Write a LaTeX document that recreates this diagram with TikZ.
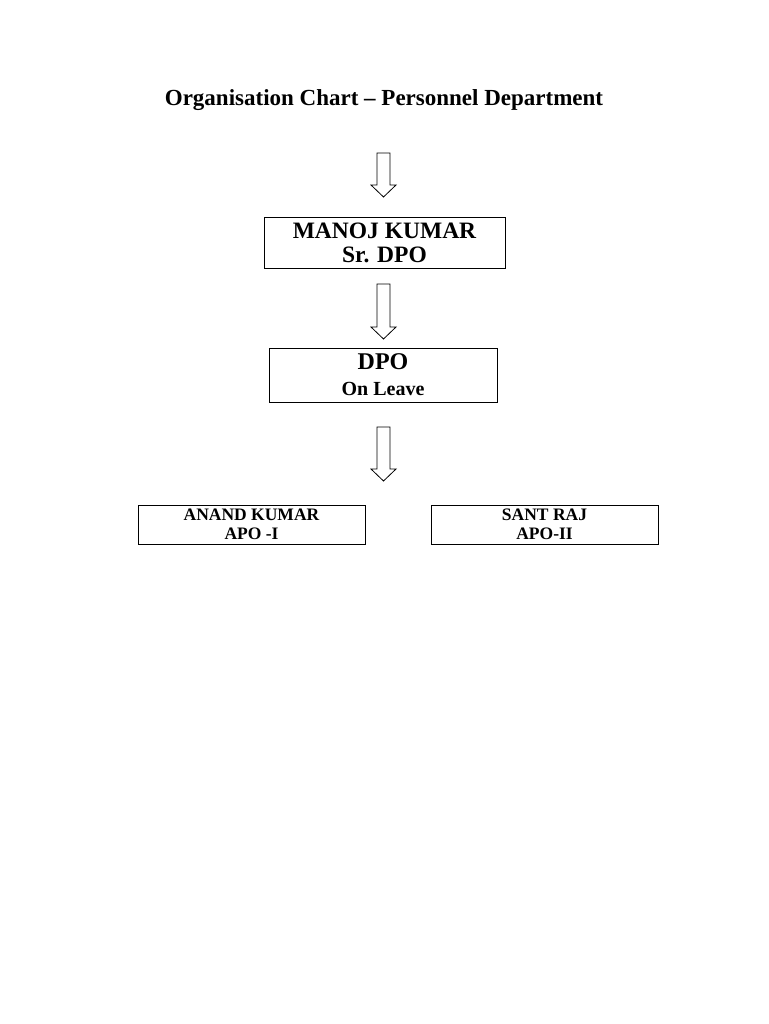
\documentclass[tikz,border=0pt]{standalone}
\usepackage{fontspec}
\setmainfont{Liberation Serif}
\begin{document}
\begin{tikzpicture}[x=1pt,y=-1pt,
  box/.style={draw,line width=0.8pt,align=center,inner sep=0pt,font=\bfseries},
  barrow/.style={draw,line width=0.8pt,line join=miter}]
\useasboundingbox (0,0) rectangle (768,1024);
\node[font=\bfseries\fontsize{23}{26}\selectfont] (title) at (384,100) {Organisation Chart -- Personnel Department};
\newcommand\blockarrow[2]{% top y, tip y
  \draw[barrow] (377,#1) -- (390,#1) -- (390,#2-12) -- (396,#2-12) -- (383.5,#2) -- (371,#2-12) -- (377,#2-12) -- cycle;}
\blockarrow{153}{197}
\blockarrow{284}{339}
\blockarrow{427}{481}
\node[box,minimum width=241,minimum height=51,font=\bfseries\fontsize{23.5}{24}\selectfont] (mk) at (384.5,242.5) {MANOJ KUMAR\\Sr. DPO};
\node[box,minimum width=228,minimum height=54,font=\bfseries\fontsize{24}{26}\selectfont] (dpo) at (383,375) {DPO\\{\fontsize{20}{22}\selectfont On Leave}};
\node[box,minimum width=227,minimum height=39,font=\bfseries\fontsize{17.5}{19}\selectfont] (ak) at (251.5,524.5) {ANAND KUMAR\\APO -I};
\node[box,minimum width=227,minimum height=39,font=\bfseries\fontsize{17.5}{19}\selectfont] (sr) at (544.5,524.5) {SANT RAJ\\APO-II};
\end{tikzpicture}
\end{document}
